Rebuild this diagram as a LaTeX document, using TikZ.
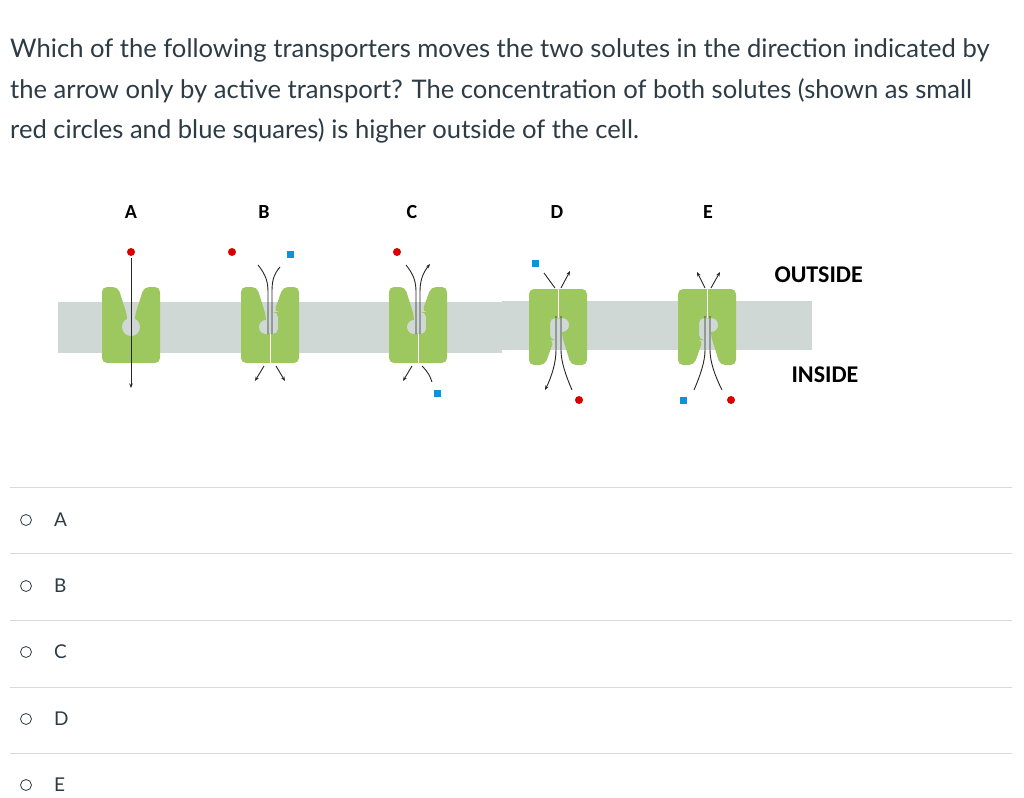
\documentclass[tikz,border=0pt]{standalone}
\usepackage{fontspec}
\usetikzlibrary{arrows.meta}
\setmainfont{Lato}
\newfontfamily\carl{Carlito}
\begin{document}
\begin{tikzpicture}[x=1pt,y=-1pt,
  prot/.style={fill=protg, rounded corners=5},
  path/.style={draw=black!85, line width=0.9pt},
  arr/.style={path,-{Stealth[length=4.5pt,width=3.5pt]}},
  lab/.style={font=\carl\bfseries\fontsize{20}{20}\selectfont},
  q/.style={anchor=base west, text=txt, font=\fontsize{25.6}{25.6}\selectfont, inner sep=0},
  opt/.style={anchor=west, text=txt, font=\fontsize{19}{19}\selectfont, inner sep=0},
  rdot/.style={fill=red!85!black, draw=none},
  bsq/.style={fill=cyan!80!blue, draw=none},
  pics/sym/.style={code={
    \fill[prot] (-29,38)--(-29,-38)--(-13,-38)--(-4,-9)--(-4,9)--(8,9)--(8,-13)--(4,-13)--(13,-38)--(29,-38)--(29,38)--cycle;
    \fill[mem] (-4,2) circle (7);
    \draw[white, line width=1pt] (0,9)--(0,38);
  }},
  pics/uni/.style={code={
    \fill[prot] (-29,38)--(-29,-38)--(-13,-38)--(-4,-10)--(-4,2)--(4,2)--(4,-10)--(13,-38)--(29,-38)--(29,38)--cycle;
    \fill[mem] (0,2) circle (9);
  }}]
\definecolor{protg}{HTML}{9DC75F}
\definecolor{mem}{HTML}{CFD8D4}
\definecolor{txt}{HTML}{2D3B45}
\definecolor{rule}{HTML}{D7DADC}
\useasboundingbox (0,0) rectangle (1024,797);
\node[q] (q1) at (10,58) {Which of the following transporters moves the two solutes in the direction indicated by};
\node[q] (q2) at (10,99) {the arrow only by active transport? The concentration of both solutes (shown as small};
\node[q] (q3) at (10,139) {red circles and blue squares) is higher outside of the cell.};
% membrane
\fill[mem] (58,302) rectangle (502,353);
\fill[mem] (502,301) rectangle (812,350);
% proteins
\pic at (131,325) {uni};
\pic at (270,325) {sym};
\pic at (418,325) {sym};
\pic[rotate=180] at (558,327) {sym};
\pic[rotate=180] at (707,327) {sym};
% labels
\foreach \n/\x in {A/131,B/264,C/412,D/557,E/708}
  \node[lab] (l\n) at (\x,212) {\n};
\node[lab, font=\carl\fontsize{24}{24}\selectfont\bfseries, anchor=west] (out) at (771,275) {OUTSIDE};
\node[lab, font=\carl\fontsize{24}{24}\selectfont\bfseries, anchor=west] (ins) at (788,375) {INSIDE};
% A
\fill[rdot] (131,252) circle (4);
\draw[arr] (131,258) -- (131,388);
% B
\fill[rdot] (232,252) circle (4);
\fill[bsq] (286.5,250.5) rectangle (293.5,257.5);
\draw[path] (258,265) .. controls (266,275) and (268,282) .. (268,292) -- (268,334);
\draw[path] (280,267) .. controls (273,275) and (272,282) .. (272,292) -- (272,334);
\draw[arr] (264,366) -- (255,381);
\draw[arr] (276,366) -- (285,381);
% C
\fill[rdot] (397,252) circle (4);
\draw[path] (406,265) .. controls (414,275) and (416,282) .. (416,292) -- (416,334);
\draw[arr] (420,334) -- (420,292) .. controls (420,282) and (422,274) .. (430,264);
\draw[arr] (412,366) -- (403,381);
\draw[path] (422,366) .. controls (428,372) and (430,376) .. (432,382);
\fill[bsq] (433.5,389.5) rectangle (440.5,396.5);
% D
\fill[bsq] (531.5,259.5) rectangle (538.5,266.5);
\draw[path] (544,273) -- (555,288);
\draw[arr] (561,288) -- (570,271);
\draw[arr] (556,316) -- (556,350) .. controls (556,362) and (552,376) .. (545,390);
\draw[path] (561,316) -- (561,350) .. controls (561,362) and (566,376) .. (572,390);
\fill[rdot] (579,400) circle (4);
% E
\draw[arr] (705,288) -- (697,272);
\draw[arr] (711,288) -- (720,272);
\draw[path] (705,316) -- (705,350) .. controls (705,362) and (700,376) .. (694,390);
\draw[path] (710,316) -- (710,350) .. controls (710,362) and (715,376) .. (722,390);
\fill[bsq] (679.5,396.5) rectangle (686.5,403.5);
\fill[rdot] (731,400) circle (4);
% options
\foreach \y in {487,553,620,687,753} \draw[rule, line width=0.8pt] (10,\y) -- (1012,\y);
\foreach \t/\y in {A/520,B/586,C/652,D/719,E/785}{
  \draw[txt, line width=0.8pt] (26,\y) circle (5.5);
  \node[opt] (o\t) at (54,\y) {\t};
}
\end{tikzpicture}
\end{document}
